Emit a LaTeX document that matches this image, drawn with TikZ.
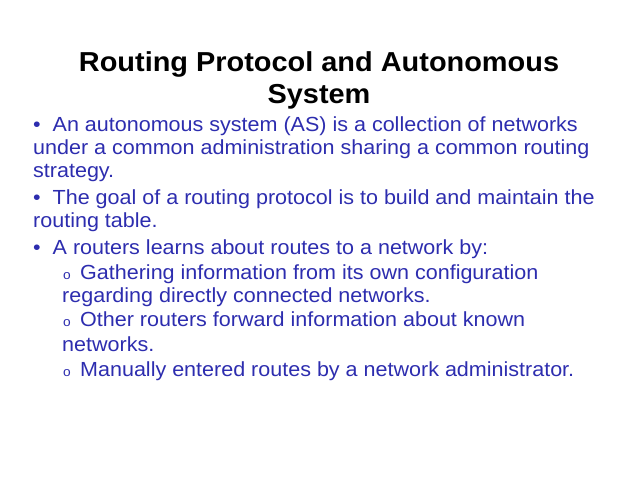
\documentclass[tikz,border=0pt]{standalone}
\usepackage{fontspec}
\setmainfont[FakeStretch=1.055]{Liberation Sans}
\usepackage{xcolor}
\definecolor{slideblue}{RGB}{45,45,175}
\tikzset{
  headline/.style={anchor=base, font=\bfseries\fontsize{27.4}{30}\selectfont, text=black, inner sep=0pt},
  bodyline/.style={anchor=base west, font=\fontsize{20.4}{22}\selectfont, text=slideblue, inner sep=0pt},
  subdot/.style={anchor=base west, font=\fontsize{13}{14}\selectfont, text=slideblue, inner sep=0pt}
}
\begin{document}
\begin{tikzpicture}[x=1pt,y=-1pt]
			% Khung trang
			\useasboundingbox[fill=white] (0,0) rectangle (638,478);
			% Tiêu đề
			\node[headline] (title1) at (319,72) {Routing Protocol and Autonomous};
			\node[headline] (title2) at (319,103.5) {System};
			% Các gạch đầu dòng
			\node[bodyline] (b1) at (33,131.7) {\textbullet\ \ An autonomous system (AS) is a collection of networks};
			\node[bodyline] (b1a) at (33,154.7) {under a common administration sharing a common routing};
			\node[bodyline] (b1b) at (33,177.7) {strategy.};
			\node[bodyline] (b2) at (33,205) {\textbullet\ \ The goal of a routing protocol is to build and maintain the};
			\node[bodyline] (b2a) at (33,228) {routing table.};
			\node[bodyline] (b3) at (33,255) {\textbullet\ \ A routers learns about routes to a network by:};
			% Các ý con
			\node[subdot] (o1) at (63,280) {o};
			\node[bodyline] (s1) at (80,280) {Gathering information from its own configuration};
			\node[bodyline] (s1a) at (62,303) {regarding directly connected networks.};
			\node[subdot] (o2) at (63,327) {o};
			\node[bodyline] (s2) at (80,327) {Other routers forward information about known};
			\node[bodyline] (s2a) at (62,352) {networks.};
			\node[subdot] (o3) at (63,377) {o};
			\node[bodyline] (s3) at (80,377) {Manually entered routes by a network administrator.};
		\end{tikzpicture}
\end{document}
